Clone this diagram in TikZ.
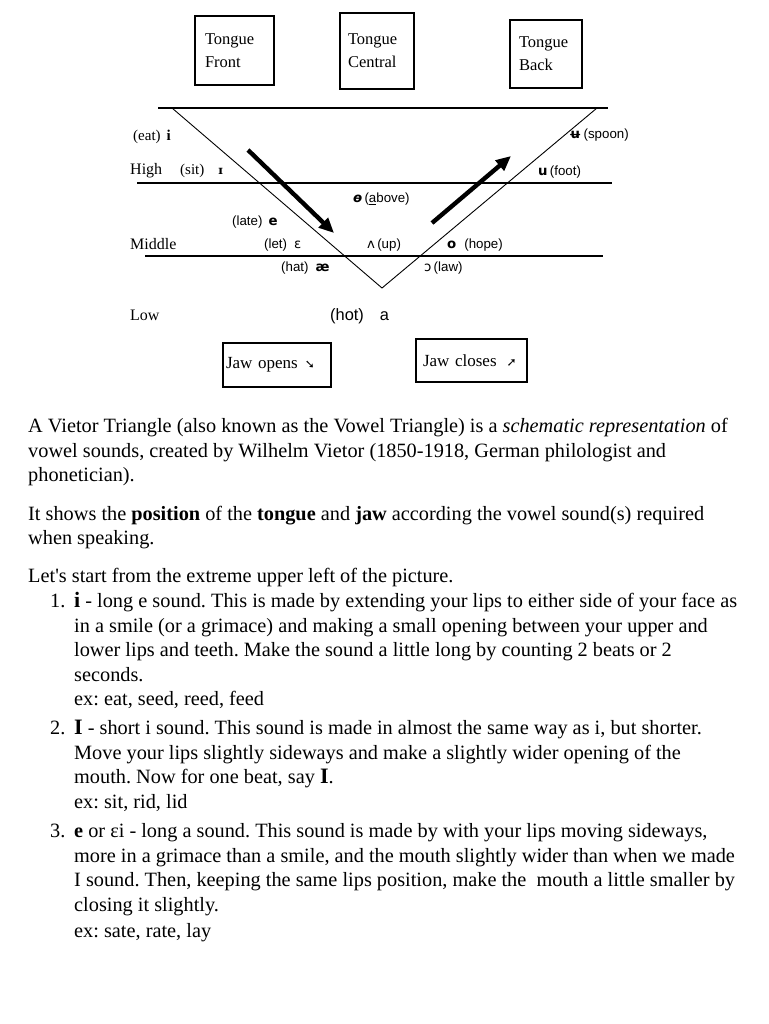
\documentclass[tikz,border=0pt]{standalone}
\usepackage{fontspec}
\setmainfont{Liberation Serif}[Ligatures=TeXOff]
\newfontfamily\lsans{Liberation Sans}
\newfontfamily\ipa{DejaVu Sans}
\newfontfamily\ipaserif{DejaVu Serif}
\usetikzlibrary{arrows.meta}
\frenchspacing
\newcommand\bigvowel[1]{{\fontsize{22}{24}\selectfont\bfseries #1}}
\begin{document}
\begin{tikzpicture}[x=1pt,y=-1pt,
  box/.style={draw,line width=1.3pt,inner ysep=0pt,align=left,font=\fontsize{16.5}{23}\selectfont},
  jawbox/.style={draw,line width=1.1pt,inner ysep=0pt,align=left,font=\fontsize{17}{18}\selectfont},
  lbl/.style={anchor=west,inner sep=0pt,font=\lsans\fontsize{13.3}{15}\selectfont},
  slbl/.style={anchor=west,inner sep=0pt,font=\fontsize{15}{16}\selectfont},
  lvl/.style={anchor=west,inner sep=0pt,font=\fontsize{16}{18}\selectfont},
  gridline/.style={line width=1.5pt},
  tri/.style={line width=0.9pt},
  bigarrow/.style={line width=4.4pt,-{Triangle[length=15pt,width=13pt]}},
  txt/.style={anchor=base west,inner sep=0pt,font=\fontsize{20.3}{24}\selectfont},
  ]
\useasboundingbox (0,0) rectangle (768,1024);
\fill[white] (0,0) rectangle (768,1024);

% tongue boxes
\node[box,inner xsep=10pt,text width=59pt,minimum height=69pt] (tf) at (234.5,50.5) {Tongue\\Front};
\node[box,inner xsep=8pt,text width=58pt,minimum height=76pt] (tc) at (377,51) {Tongue\\Central};
\node[box,inner xsep=9pt,text width=54pt,minimum height=68pt] (tb) at (546,54) {Tongue\\Back};

% triangle and level lines
\coordinate (tl) at (172,108);
\coordinate (tr) at (597,108);
\coordinate (bv) at (382,288);
\coordinate (topL) at (158,108);
\coordinate (topR) at (608,108);
\coordinate (hiL) at (137,183);
\coordinate (hiR) at (612,183);
\coordinate (miL) at (145,256);
\coordinate (miR) at (603,256);
\draw[gridline] (topL) -- (topR);
\draw[gridline] (hiL) -- (hiR);
\draw[gridline] (miL) -- (miR);
\draw[tri] (tl) -- (bv) -- (tr);

% big arrows
\coordinate (a1s) at (248,150);
\coordinate (a1e) at (334,233);
\coordinate (a2s) at (432,223);
\coordinate (a2e) at (511,156);
\draw[bigarrow] (a1s) -- (a1e);
\draw[bigarrow] (a2s) -- (a2e);

% level labels
\node[lvl] (high) at (130,171) {High};
\node[lvl] (mid) at (130,244) {Middle};
\node[lvl] (low) at (130,315) {Low};

% vowel labels
\node[slbl] (eat) at (133,137) {(eat)\hspace{6pt}\textbf{i}};
\node[slbl] (sit) at (180,171) {(sit)\hspace{14pt}{\ipaserif\bfseries\fontsize{12}{12}\selectfont ɪ}};
\node[lbl] (spoon) at (569,135) {{\ipa\bfseries ʉ}\,(spoon)};
\node[lbl] (foot) at (538,172) {{\ipa\bfseries u}\,(foot)};
\node[lbl] (above) at (353,199) {{\ipa\itshape\bfseries ɵ}\,(\underline{a}bove)};
\node[lbl] (late) at (232,222) {(late)\hspace{6pt}{\ipa\bfseries e}};
\node[lbl] (let) at (264,245) {(let)\hspace{7pt}{\ipa ɛ}};
\node[lbl] (up) at (367,245) {{\ipa ʌ}\,(up)};
\node[lbl] (hope) at (447,245) {{\ipa\bfseries o}\hspace{8pt}(hope)};
\node[lbl] (hat) at (281,268) {(hat)\hspace{7pt}{\ipa\bfseries æ}};
\node[lbl] (law) at (424,268) {{\ipa ɔ}\,(law)};
\node[lbl,font=\lsans\fontsize{16.4}{18}\selectfont] (hot) at (330,316) {(hot)\hspace{16pt}a};

% jaw boxes
\node[jawbox,inner xsep=3pt,text width=102pt,minimum height=44pt] (jo) at (277,365) {Jaw opens\hspace{7pt}{\ipa\fontsize{12}{12}\selectfont ➘}};
\node[jawbox,inner xsep=7pt,text width=97pt,minimum height=43pt] (jc) at (471.5,360.5) {Jaw closes\hspace{10pt}{\ipa\fontsize{12}{12}\selectfont ➚}};

% text
\node[txt] (p1a) at (28,432) {A Vietor Triangle (also known as the Vowel Triangle) is a \textit{schematic representation} of};
\node[txt] (p1b) at (28,457) {vowel sounds, created by Wilhelm Vietor (1850-1918, German philologist and};
\node[txt] (p1c) at (28,481) {phonetician).};
\node[txt] (p2a) at (28,520) {It shows the \textbf{position} of the \textbf{tongue} and \textbf{jaw} according the vowel sound(s) required};
\node[txt] (p2b) at (28,544) {when speaking.};
\node[txt] (p3a) at (28,582) {Let's start from the extreme upper left of the picture.};

\node[txt] (n1) at (50,607) {1.};
\node[txt] (i1a) at (74,607) {\bigvowel{i} - long e sound. This is made by extending your lips to either side of your face as};
\node[txt] (i1b) at (74,632) {in a smile (or a grimace) and making a small opening between your upper and};
\node[txt] (i1c) at (74,656) {lower lips and teeth. Make the sound a little long by counting 2 beats or 2};
\node[txt] (i1d) at (74,681) {seconds.};
\node[txt] (i1e) at (74,705) {ex: eat, seed, reed, feed};

\node[txt] (n2) at (50,734) {2.};
\node[txt] (i2a) at (74,734) {\bigvowel{I} - short i sound. This sound is made in almost the same way as i, but shorter.};
\node[txt] (i2b) at (74,759) {Move your lips slightly sideways and make a slightly wider opening of the};
\node[txt] (i2c) at (74,783) {mouth. Now for one beat, say \bigvowel{I}.};
\node[txt] (i2d) at (74,808) {ex: sit, rid, lid};

\node[txt] (n3) at (50,837) {3.};
\node[txt] (i3a) at (74,837) {\textbf{e} or ɛi - long a sound. This sound is made by with your lips moving sideways,};
\node[txt] (i3b) at (74,862) {more in a grimace than a smile, and the mouth slightly wider than when we made};
\node[txt] (i3c) at (74,886) {I sound. Then, keeping the same lips position, make the\ \ mouth a little smaller by};
\node[txt] (i3d) at (74,911) {closing it slightly.};
\node[txt] (i3e) at (74,937) {ex: sate, rate, lay};
\end{tikzpicture}
\end{document}
